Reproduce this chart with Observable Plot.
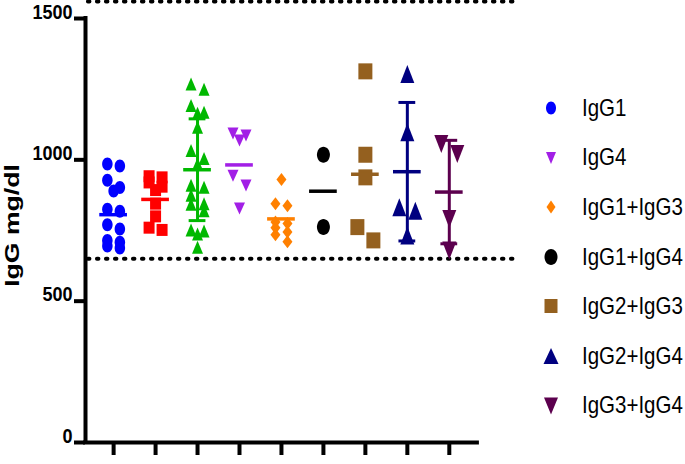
<!DOCTYPE html>
<html>
<head>
<meta charset="utf-8">
<script src="https://cdn.jsdelivr.net/npm/d3@7"></script>
<script src="https://cdn.jsdelivr.net/npm/@observablehq/plot@0.6"></script>
<style>
  html, body { margin: 0; padding: 0; background: #fff; }
  #wrap { position: relative; width: 685px; height: 464px; overflow: hidden; }
  .lg { position: absolute; left: 541px; height: 24px; display: flex; align-items: center; }
  .lg svg { width: 20px; height: 24px; overflow: visible; }
  .lg span { position: absolute; left: 41px; font-family: 'Liberation Sans', Arial, sans-serif; font-size: 20.5px; line-height: 1; white-space: nowrap; transform: scaleY(1.15); transform-origin: left center; color: #000; }
</style>
</head>
<body>
<div id="wrap"></div>
<script>
// ---- data ----
const categories = ["IgG1", "IgG2", "IgG3", "IgG4", "IgG1+IgG3", "IgG1+IgG4", "IgG2+IgG3", "IgG2+IgG4", "IgG3+IgG4"];
const colors = ["#0000ff", "#ff0000", "#00b800", "#a21fe6", "#ff8000", "#000000", "#94601f", "#000080", "#5c004e"];
const shapes = ["circle", "square", "triangle", "tridown", "diamond", "circle", "square", "triangle", "tridown"];

const igg1   = [985, 978, 928, 902, 890, 825, 818, 770, 755, 715, 708, 695, 688];
const igg2   = [942, 938, 920, 905, 893, 845, 800, 760, 752];
const igg3   = [1268, 1250, 1192, 1168, 1165, 1115, 1033, 1005, 985, 910, 903, 875, 845, 843, 820, 752, 748, 738, 691];
const igg4   = [1093, 1086, 1068, 944, 909, 828];
const igg1_3 = [930, 845, 838, 780, 775, 760, 745, 735, 710];
const igg1_4 = [1018, 762];
const igg2_3 = [1313, 1018, 938, 762, 715];
const igg2_4 = [1304, 1098, 832, 820, 732];
const igg3_4 = [1056, 1021, 791, 679];
const groupValues = [igg1, igg2, igg3, igg4, igg1_3, igg1_4, igg2_3, igg2_4, igg3_4];

const means = [806, 860, 965, 982, 791, 889, 949, 958, 886];
const sds   = [null, null, 180, null, null, null, null, 245, 183];

const refLines = [650, 1560];
const yTicks = [0, 500, 1000, 1500];
const yLabel = "IgG mg/dl";
const legendCats = ["IgG1", "IgG4", "IgG1+IgG3", "IgG1+IgG4", "IgG2+IgG3", "IgG2+IgG4", "IgG3+IgG4"];

// ---- styling / layout ----
const symSize = [[10.5, 13], [11, 12], [11, 13], [11, 12], [10, 13], [13, 16], [14, 16], [14, 18], [14, 18]];
const legendSize = {"IgG1": [10, 13], "IgG4": [10, 12], "IgG1+IgG3": [9, 13], "IgG1+IgG4": [13, 16], "IgG2+IgG3": [13, 14], "IgG2+IgG4": [15, 16], "IgG3+IgG4": [14, 17]};

const W = 685, H = 464, ML = 85, MR = 172, MT = 18, MB = 22;
const X_MIN = -0.67, X_MAX = 9.53, AXIS_END = 8.67;
const pxPerIndex = (W - ML - MR) / (X_MAX - X_MIN);
const pxPerUnit = (H - MT - MB) / 1500;

function makeSym(kind, w, h) {
  const rx = w / 2, ry = h / 2, k = 0.5523;
  return {
    draw(c) {
      if (kind === "circle") {
        c.moveTo(rx, 0);
        c.bezierCurveTo(rx, k * ry, k * rx, ry, 0, ry);
        c.bezierCurveTo(-k * rx, ry, -rx, k * ry, -rx, 0);
        c.bezierCurveTo(-rx, -k * ry, -k * rx, -ry, 0, -ry);
        c.bezierCurveTo(k * rx, -ry, rx, -k * ry, rx, 0);
      } else if (kind === "square") {
        c.moveTo(-rx, -ry); c.lineTo(rx, -ry); c.lineTo(rx, ry); c.lineTo(-rx, ry);
      } else if (kind === "triangle") {
        c.moveTo(0, -ry); c.lineTo(rx, ry); c.lineTo(-rx, ry);
      } else if (kind === "tridown") {
        c.moveTo(0, ry); c.lineTo(rx, -ry); c.lineTo(-rx, -ry);
      } else if (kind === "diamond") {
        c.moveTo(0, -ry); c.lineTo(rx, 0); c.lineTo(0, ry); c.lineTo(-rx, 0);
      }
      c.closePath();
    }
  };
}

// column scatter: neighbouring values that would overlap are placed side by side
function scatter(values, w, h) {
  const sorted = [...values].sort((a, b) => b - a);
  const thr = 0.9 * h / pxPerUnit;
  const rows = [];
  for (const v of sorted) {
    const last = rows[rows.length - 1];
    if (last && last.length < 2 && last[0] - v < thr) last.push(v);
    else rows.push([v]);
  }
  const d = w + 2;
  return rows.flatMap(r => r.map((v, j) => ({value: v, off: (j - (r.length - 1) / 2) * d})));
}

const marks = [];
marks.push(Plot.ruleY(refLines, {x1: -0.6, x2: X_MAX, stroke: "#000", strokeWidth: 4, strokeDasharray: "1.5 7.5", strokeLinecap: "round"}));

categories.forEach((cat, i) => {
  const [w, h] = symSize[i];
  const pts = scatter(groupValues[i], w, h).map(p => ({x: i + p.off / pxPerIndex, y: p.value}));
  marks.push(Plot.dot(pts, {x: "x", y: "y", r: 5, symbol: makeSym(shapes[i], w, h), fill: colors[i], stroke: "none"}));
});
categories.forEach((cat, i) => {
  marks.push(Plot.ruleY([{i, m: means[i]}], {x1: d => d.i - 0.33, x2: d => d.i + 0.33, y: "m", stroke: colors[i], strokeWidth: 3.5}));
  if (sds[i] != null) {
    const s = [{i, lo: means[i] - sds[i], hi: means[i] + sds[i]}];
    marks.push(Plot.ruleX(s, {x: "i", y1: "lo", y2: "hi", stroke: colors[i], strokeWidth: 3}));
    marks.push(Plot.ruleY(s, {x1: d => d.i - 0.2, x2: d => d.i + 0.2, y: "lo", stroke: colors[i], strokeWidth: 3}));
    marks.push(Plot.ruleY(s, {x1: d => d.i - 0.2, x2: d => d.i + 0.2, y: "hi", stroke: colors[i], strokeWidth: 3}));
  }
});

marks.push(Plot.ruleX([X_MIN], {y1: 0, y2: 1500, stroke: "#000", strokeWidth: 4, strokeLinecap: "square"}));
marks.push(Plot.ruleY([0], {x1: X_MIN, x2: AXIS_END, stroke: "#000", strokeWidth: 4, strokeLinecap: "square"}));
marks.push(Plot.axisY({ticks: yTicks, tickSize: 11, tickPadding: 2, strokeWidth: 4, fontSize: 18, tickFormat: d3.format("d"), label: null}));
marks.push(Plot.axisX({ticks: d3.range(categories.length), tickSize: 13, strokeWidth: 4, tickFormat: () => "", label: null}));
marks.push(Plot.text([yLabel], {frameAnchor: "left", dx: -67, dy: -5, rotate: -90, textAnchor: "middle", fontSize: 20}));

const chart = Plot.plot({
  width: W, height: H,
  marginLeft: ML, marginRight: MR, marginTop: MT, marginBottom: MB,
  x: {domain: [X_MIN, X_MAX]},
  y: {domain: [0, 1500]},
  style: {fontFamily: "'Liberation Sans', Arial, sans-serif", fontWeight: "bold", background: "white", overflow: "visible", color: "#000"},
  marks
});

// mimic the slightly tall lettering of the original
function stretch(t, sx, sy) {
  const x = +t.getAttribute("x") || 0, y = +t.getAttribute("y") || 0;
  t.removeAttribute("x"); t.removeAttribute("y");
  const tr = t.getAttribute("transform") || "";
  t.setAttribute("transform", `${tr} translate(${x},${y}) scale(${sx},${sy})`);
}
const tickStrs = yTicks.map(String);
chart.querySelectorAll("text").forEach(t => {
  const s = t.textContent.trim();
  if (s === yLabel) stretch(t, 1.33, 1);
  else if (tickStrs.includes(s)) stretch(t, 1, 1.16);
});

const wrap = document.getElementById("wrap");
wrap.appendChild(chart);

legendCats.forEach((cat, j) => {
  const i = categories.indexOf(cat);
  const [w, h] = legendSize[cat];
  const cy = 108 + j * 49.6;
  const item = document.createElement("div");
  item.className = "lg";
  item.style.top = (cy - 12) + "px";
  const path = d3.symbol().type(makeSym(shapes[i], w, h))();
  item.innerHTML = `<svg viewBox="-10 -12 20 24"><path d="${path}" fill="${colors[i]}"></path></svg><span>${cat}</span>`;
  wrap.appendChild(item);
});
</script>
</body>
</html>
